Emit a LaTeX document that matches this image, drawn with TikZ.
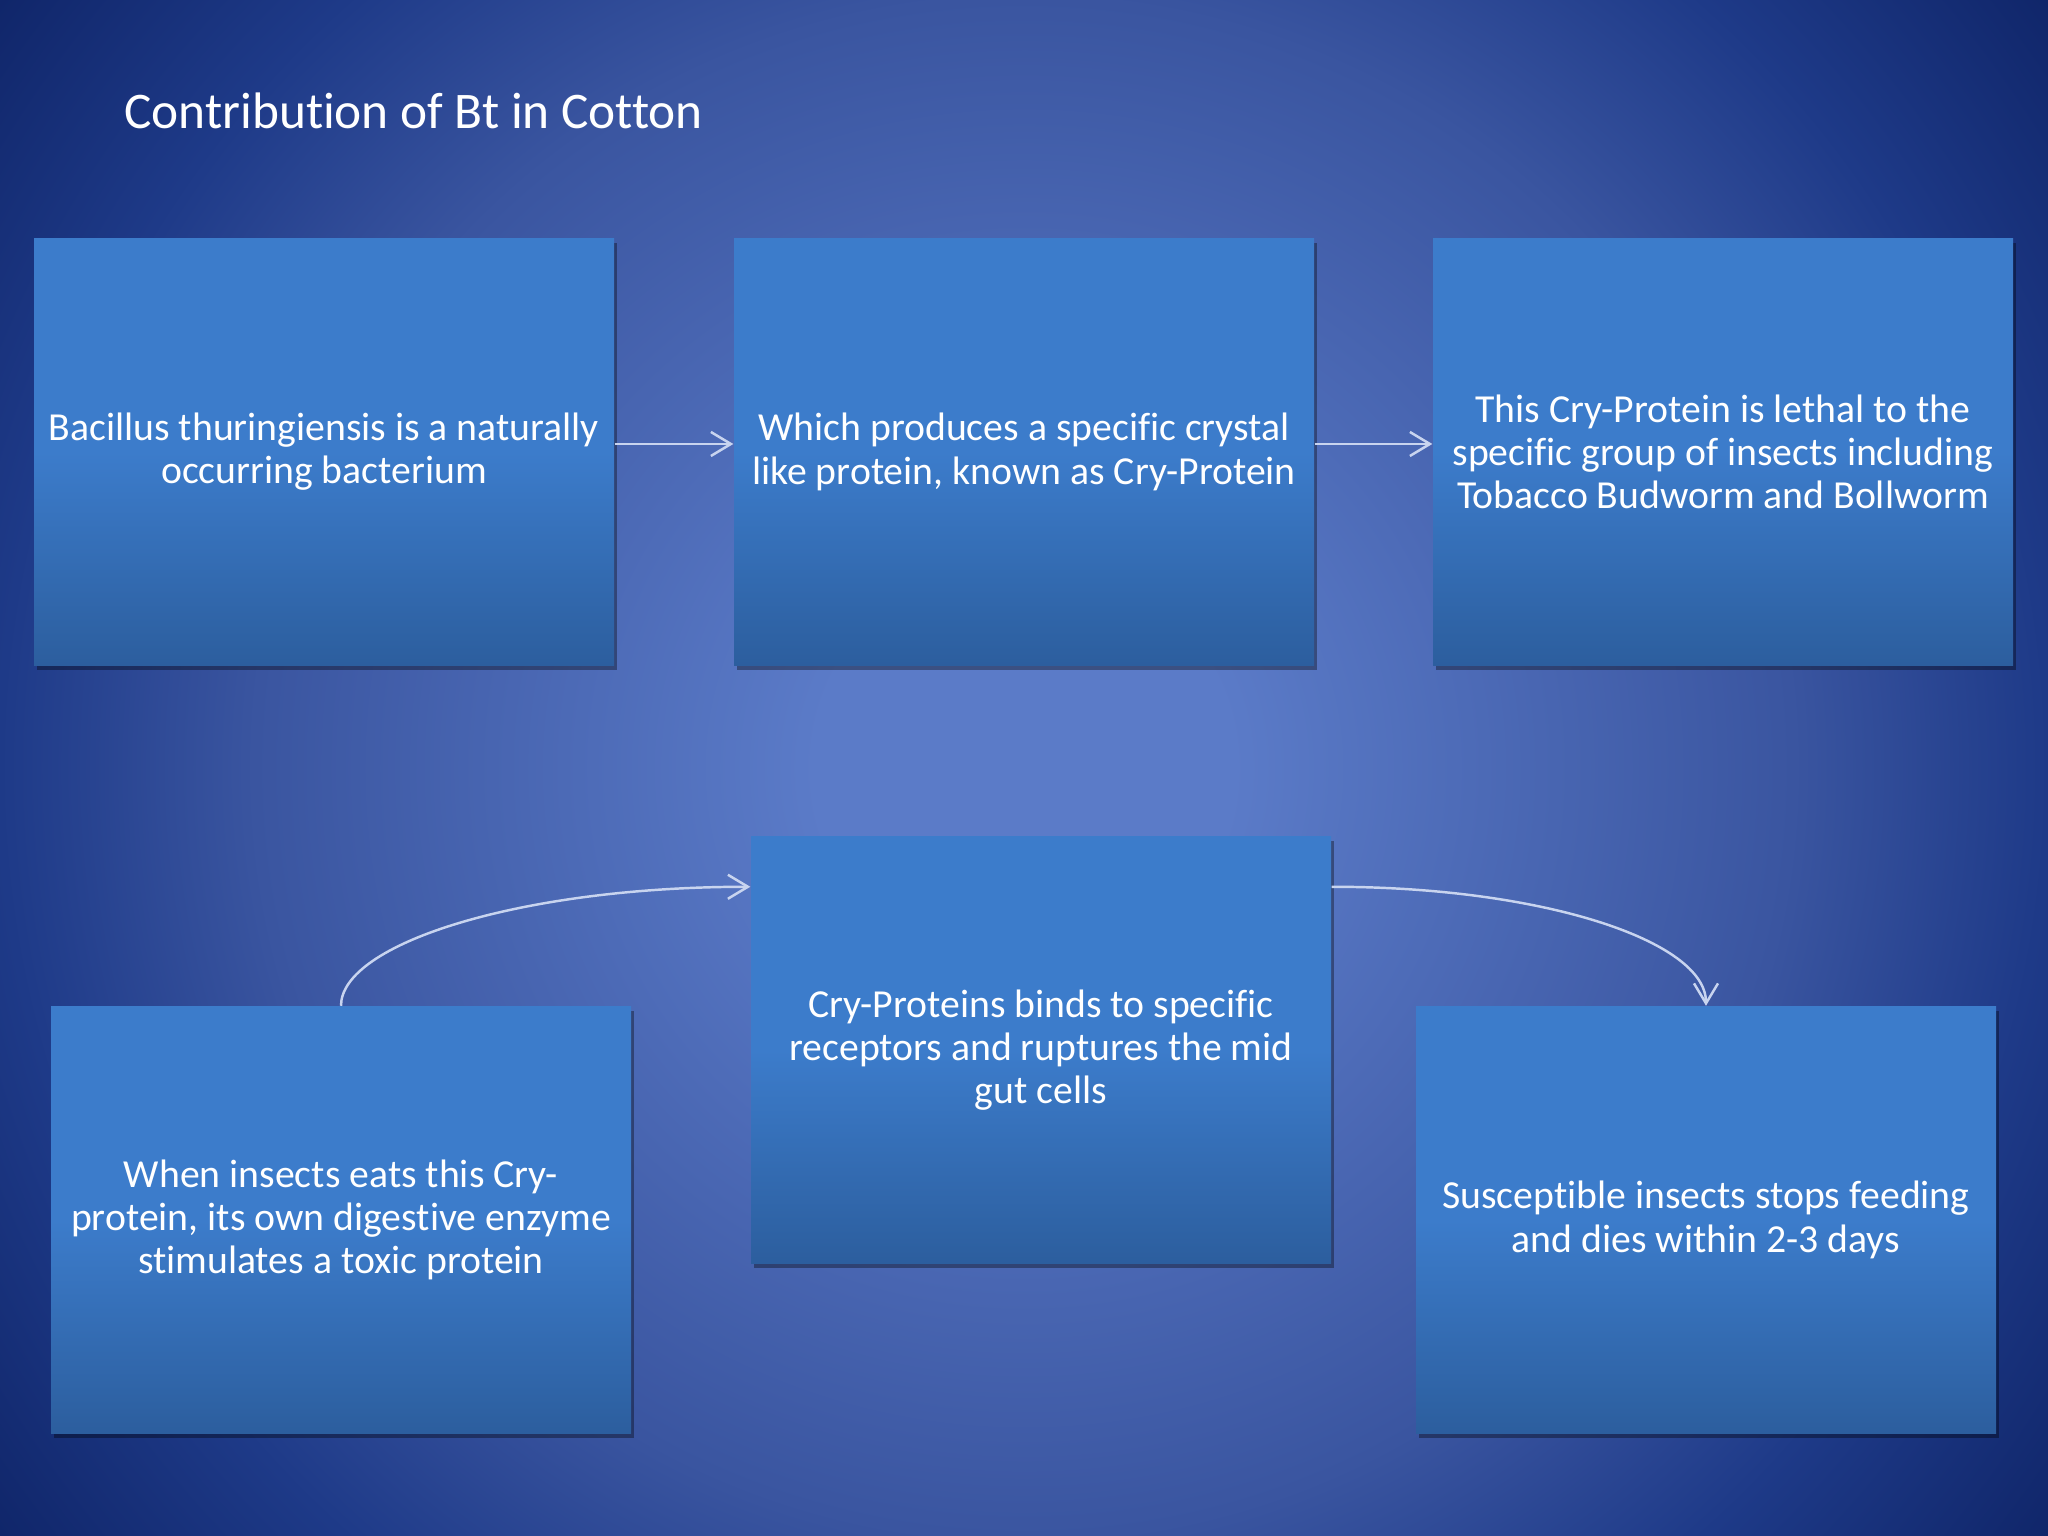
\documentclass[tikz,border=0pt]{standalone}
\usepackage{fontspec}
\setmainfont{Carlito}[Ligatures=NoCommon]
\usepackage{tikz}
\usetikzlibrary{arrows.meta, positioning, calc, shadows}
\usepackage{xcolor}

\definecolor{bgin}{HTML}{5B7BC8}
\definecolor{bgtop}{HTML}{3A55A0}
\definecolor{bgside}{HTML}{1E3A88}
\definecolor{bgcorner}{HTML}{10266A}
\definecolor{boxtop}{HTML}{3C7CCB}
\definecolor{boxbot}{HTML}{2C5E9E}
\definecolor{arrowcol}{HTML}{C8D4EF}

\pgfdeclareradialshading{slidebg}{\pgfpoint{0bp}{0bp}}{color(0bp)=(bgin); color(4bp)=(bgin); color(14.8bp)=(bgtop); color(19.7bp)=(bgside); color(24.6bp)=(bgcorner); color(50bp)=(bgcorner)}

\begin{document}
\begin{tikzpicture}[
    stepbox/.style={rectangle, minimum width=5.8cm, minimum height=4.27cm, inner sep=0pt,
      top color=boxtop, bottom color=boxbot, middle color=boxtop,
      text=white, align=center, font=\fontsize{11.3}{12.3}\selectfont,
      drop shadow={shadow xshift=0.03cm, shadow yshift=-0.05cm, opacity=0.35, fill=black}},
    flow/.style={draw=arrowcol, line width=0.7pt, -{Straight Barb[length=0.2cm, width=0.24cm]}}
  ]
  \useasboundingbox (0,0) rectangle (20.48,15.36);

  % Background
  \begin{scope}
    \clip (0,0) rectangle (20.48,15.36);
    \shade[shading=slidebg] (-2.76,-5.32) rectangle (23.24,20.68);
  \end{scope}

  % Title
  \node [anchor=west, text=white, font=\fontsize{14.6}{17}\selectfont] (title) at (1.12,14.25) {Contribution of Bt in Cotton};

  % Top row
  \node [stepbox] (bacillus) at (3.24,10.84) {Bacillus thuringiensis is a naturally\\occurring bacterium};
  \node [stepbox] (crystal) at (10.24,10.84) {Which produces a specific crystal\\like protein, known as Cry-Protein};
  \node [stepbox] (lethal) at (17.23,10.84) {This Cry-Protein is lethal to the\\specific group of insects including\\Tobacco Budworm and Bollworm};

  % Bottom row
  \node [stepbox] (eats) at (3.41,3.16) {When insects eats this Cry-\\protein, its own digestive enzyme\\stimulates a toxic protein};
  \node [stepbox] (binds) at (10.41,4.86) {Cry-Proteins binds to specific\\receptors and ruptures the mid\\gut cells};
  \node [stepbox] (dies) at (17.06,3.16) {Susceptible insects stops feeding\\and dies within 2-3 days};

  % Arrows
  \draw [flow] ([yshift=0.08cm]bacillus.east) -- ([yshift=0.08cm]crystal.west);
  \draw [flow] ([yshift=0.08cm]crystal.east) -- ([yshift=0.08cm]lethal.west);
  \draw [flow] (eats.north) .. controls +(90:0.62) and +(180:2.3) .. ([yshift=-0.51cm]binds.north west);
  \draw [flow] ([yshift=-0.51cm]binds.north east) .. controls +(0:2.1) and +(90:0.65) .. (dies.north);
\end{tikzpicture}
\end{document}
